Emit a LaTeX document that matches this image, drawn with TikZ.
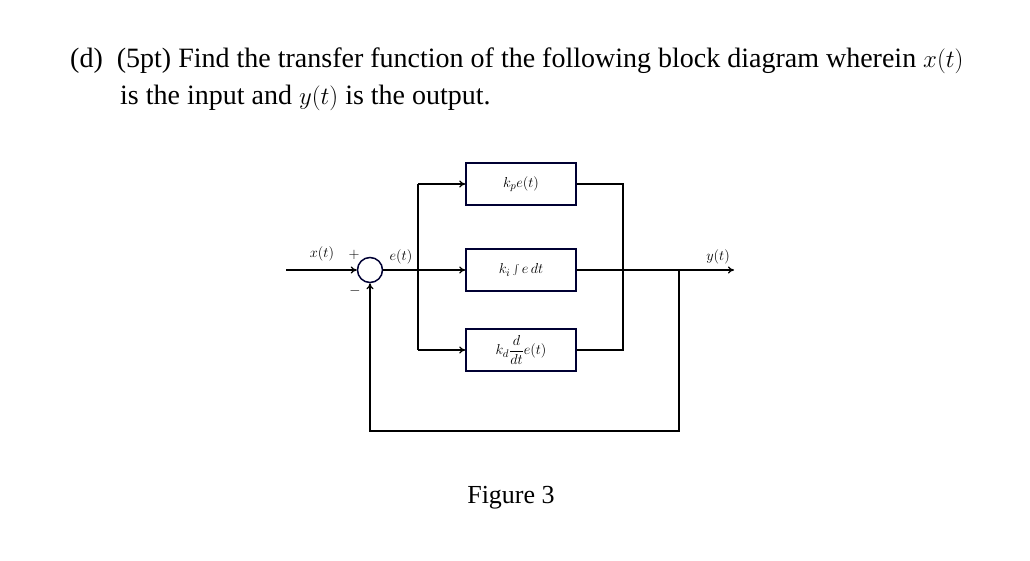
\documentclass[tikz,border=0pt]{standalone}
\usepackage{fontspec}
\setmainfont{Liberation Serif}
\usetikzlibrary{arrows.meta}
\begin{document}
\begin{tikzpicture}[x=1pt,y=-1pt,
  blk/.style={draw=black!80!blue,line width=1.4pt,minimum width=110pt,minimum height=42pt,inner sep=0pt,font=\fontsize{15}{17}\selectfont},
  ln/.style={line width=1.2pt},
  arr/.style={ln,-{To[length=6pt,width=7pt]}},
  lab/.style={font=\fontsize{15}{17}\selectfont,inner sep=0pt}]
\useasboundingbox (0,0) rectangle (1030,561);
\node[anchor=base west,inner sep=0pt,font=\fontsize{28}{32}\selectfont] (t1) at (70,68) {(d)\enspace(5pt) Find the transfer function of the following block diagram wherein $x(t)$};
\node[anchor=base west,inner sep=0pt,font=\fontsize{28}{32}\selectfont] (t2) at (120,105) {is the input and $y(t)$ is the output.};
\node[anchor=base,inner sep=0pt,font=\fontsize{26}{30}\selectfont] (fig) at (511,503) {Figure 3};

\node[circle,draw=black!80!blue,line width=1.5pt,minimum size=25pt,inner sep=0pt] (s) at (370,270) {};
\node[blk] (p) at (521,184) {$k_p e(t)$};
\node[blk] (i) at (521,270) {$k_i \int e\,dt$};
\node[blk] (d) at (521,350) {$k_d \displaystyle\frac{d}{dt} e(t)$};
\coordinate (in) at (286,270);
\coordinate (out) at (734,270);
\coordinate (br) at (418,270);
\coordinate (bt) at (418,184);
\coordinate (bb) at (418,350);
\coordinate (rt) at (623,184);
\coordinate (rb) at (623,350);
\coordinate (tap) at (679,270);
\coordinate (tb) at (679,431);
\coordinate (fb) at (370,431);

\draw[arr] (in) -- (s.west);
\draw[arr] (s.east) -- (i.west);
\draw[ln] (bt) -- (bb);
\draw[arr] (bt) -- (p.west);
\draw[arr] (bb) -- (d.west);
\draw[ln] (p.east) -- (rt) -- (rb) -- (d.east);
\draw[arr] (i.east) -- (out);
\draw[arr] (tap) -- (tb) -- (fb) -- (s.south);

\node[lab] (lx) at (322,254) {$x(t)$};
\node[lab] (lp) at (354,255) {$+$};
\node[lab] (le) at (401,257) {$e(t)$};
\node[lab] (lm) at (355,291) {$-$};
\node[lab] (ly) at (718,257) {$y(t)$};
\end{tikzpicture}
\end{document}
